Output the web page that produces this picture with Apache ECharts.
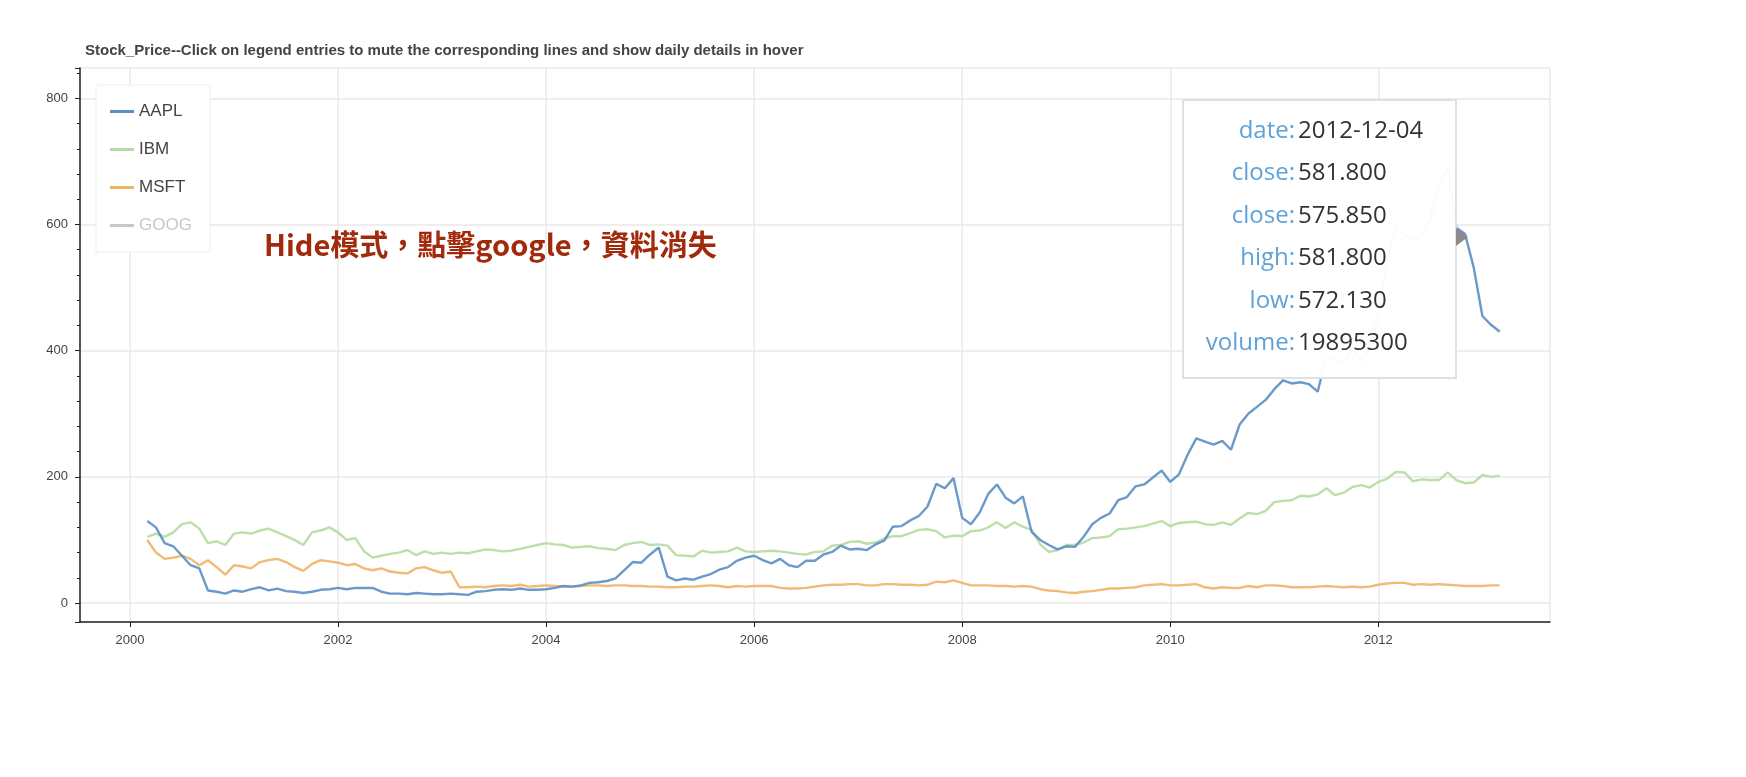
<!DOCTYPE html>
<head>
<meta charset="utf-8"/>
<script src="https://cdn.jsdelivr.net/npm/echarts@6/dist/echarts.min.js"></script>
</head>
<body style="margin:0;background:#fff">
<div id="main" style="width:1746px;height:777px;"></div>
<script type="text/javascript">
// monthly closes, starting March 2000
var startYear = 2000, startMonth = 3;
var aapl = [130,120,95,90,75,60,55,20,18,15,
  20,18,22,25,20,23,19,18,16,18,21,22,
  24,22,24,24,24,18,15,15,14,16,15,14,
  14,15,14,13,18,19,21,22,21,23,21,21,
  22,24,27,26,28,32,33,35,39,52,65,64,
  77,88,42,36,39,37,42,46,53,57,67,72,
  75,68,63,70,60,57,67,67,77,81,91,85,
  86,84,93,99,121,122,131,138,153,189,182,198,
  135,125,143,173,188,167,158,169,113,100,92,85,
  90,89,105,125,135,142,163,168,185,188,199,210,
  192,204,235,261,256,251,257,243,283,300,311,322,
  339,353,348,350,347,335,390,384,381,404,382,405,
  456,542,599,583,577,584,610,665,690,595,585,532,
  455,441,430];
var ibm = [105,110,105,112,125,128,118,95,98,92,
  110,112,110,115,118,112,106,100,92,112,115,120,
  112,100,103,82,72,75,78,80,84,76,82,78,
  80,78,80,79,82,85,84,82,83,86,89,92,
  95,93,92,88,89,90,87,86,84,92,95,97,
  92,93,91,76,75,74,83,80,81,82,88,82,
  81,82,83,82,80,78,77,81,82,91,92,97,
  98,94,96,102,106,106,111,116,117,114,104,107,
  106,114,115,120,128,119,128,121,116,93,81,84,
  92,92,96,103,104,106,117,118,120,122,126,130,
  122,127,128,129,125,124,128,124,134,143,141,146,
  160,162,163,170,169,172,182,171,175,184,187,183,
  192,197,208,207,193,196,195,195,207,195,190,191,
  203,200,202];
var msft = [100,80,70,72,75,70,60,68,57,45,
  60,58,55,65,68,70,65,57,51,62,68,66,
  64,60,62,55,52,55,50,48,47,55,57,52,
  48,50,25,25,26,25,27,28,27,29,26,27,
  28,27,26,26,27,28,28,27,28,28,27,27,
  26,26,25,25,26,26,27,28,27,25,27,26,
  27,27,27,24,23,23,24,26,28,29,29,30,
  30,28,28,30,30,29,29,28,29,34,33,36,
  32,28,28,28,27,27,26,27,26,22,20,19,
  17,16,18,19,21,23,23,24,25,28,29,30,
  28,28,29,30,25,23,25,24,24,27,25,28,
  28,27,25,25,25,26,27,26,25,26,25,26,
  29,31,32,32,29,30,29,30,29,28,27,27,
  27,28,28];
var names = ['AAPL','IBM','MSFT','GOOG'];
var colors = ['#5b8ec4','#b5dba0','#f0b266','#e6bfbf'];

function toPairs(arr) {
  return arr.map(function (v, i) {
    var m = startMonth - 1 + i;
    return [startYear + m / 12, v];
  });
}
var myChart = echarts.init(document.getElementById('main'));
var lineSeries = [aapl, ibm, msft, []].map(function (d, i) {
  return {
    name: names[i], type: 'line', data: toPairs(d), showSymbol: false,
    lineStyle: {width: 2.4, color: colors[i], opacity: 0.9},
    itemStyle: {color: colors[i]}, z: i == 0 ? 3 : 2
  };
});
var tipX = 1183, tipY = 100;
var tipKeys = ['date:','close:','close:','high:','low:','volume:'];
var tipVals = ['2012-12-04','581.800','575.850','581.800','572.130','19895300'];
var tipEls = [{type: 'rect', z: 100, shape: {x: tipX, y: tipY, width: 273, height: 278},
  style: {fill: 'rgba(255,255,255,0.97)', stroke: '#e0e0e0', lineWidth: 2}},
  {type: 'polygon', z: 100, shape: {points: [[1456,228],[1468,237],[1456,246]]}, style: {fill: '#8a8a8a'}}];
tipKeys.forEach(function (k, i) {
  tipEls.push({type: 'text', z: 101, style: {x: 1295, y: tipY + 31 + i * 42.5, text: k, fill: '#5fa2d8',
    font: '24px "Open Sans", sans-serif', align: 'right', verticalAlign: 'middle'}});
  tipEls.push({type: 'text', z: 101, style: {x: 1298, y: tipY + 31 + i * 42.5, text: tipVals[i], fill: '#333',
    font: '24px "Open Sans", sans-serif', align: 'left', verticalAlign: 'middle'}});
});
var options = {
  animation: false,
  title: {text: 'Stock_Price--Click on legend entries to mute the corresponding lines and show daily details in hover',
    left: 80, top: 38, textStyle: {fontSize: 15, fontWeight: 'bold', color: '#444', fontFamily: 'Liberation Sans'}},
  grid: {left: 80, right: 196, top: 68, bottom: 155},
  legend: {
    data: names, selected: {GOOG: false}, orient: 'vertical', left: 96, top: 85,
    padding: [18, 18, 18, 14], itemGap: 21, itemWidth: 24, itemHeight: 3,
    icon: 'rect', backgroundColor: '#fff', borderColor: '#eee', borderWidth: 1,
    inactiveColor: '#c8c8c8',
    textStyle: {fontSize: 17, color: '#444', fontFamily: 'Liberation Sans'}
  },
  xAxis: {
    type: 'value', min: 1999.52, max: 2013.65, splitNumber: 7,
    axisLine: {onZero: false, lineStyle: {color: '#222', width: 1.5}},
    axisTick: {lineStyle: {color: '#222'}},
    axisLabel: {color: '#444', fontSize: 13, margin: 12, showMinLabel: false, showMaxLabel: false,
      formatter: function (v) { return Math.round(v); }},
    splitLine: {lineStyle: {color: '#e8e8e8', width: 1.5}}
  },
  yAxis: {
    type: 'value', min: -30, max: 848, splitNumber: 4,
    axisLine: {show: true, lineStyle: {color: '#222', width: 1.5}},
    axisTick: {show: true, lineStyle: {color: '#222'}},
    minorTick: {show: true, splitNumber: 5, length: 3, lineStyle: {color: '#222'}},
    axisLabel: {color: '#444', fontSize: 13, margin: 12, showMinLabel: false, showMaxLabel: false},
    splitLine: {lineStyle: {color: '#e8e8e8', width: 1.5}}
  },
  series: lineSeries,
  graphic: [
    {type: 'text', left: 264, top: 230, z: 10, style: {text: 'Hide模式，點擊google，資料消失',
      fill: '#a12a0c', font: 'bold 29px "Noto Sans CJK TC", sans-serif'}},
    {type: 'group', z: 100, children: tipEls}
  ]
};
myChart.setOption(options);
</script>
</body>
